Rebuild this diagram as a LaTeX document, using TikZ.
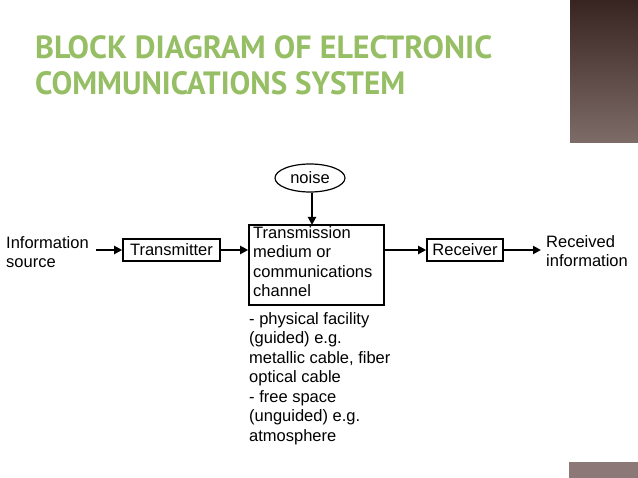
\documentclass[tikz,border=0pt]{standalone}
\usepackage{fontspec}
\setmainfont{Liberation Sans}
\newfontfamily\titlefont{PT Sans}
\usetikzlibrary{shapes.geometric,arrows.meta}
\definecolor{titlegreen}{RGB}{150,190,100}
\definecolor{barbrown}{RGB}{70,45,40}
\definecolor{barlight}{RGB}{140,120,118}
\begin{document}
\begin{tikzpicture}[x=1pt,y=-1pt,
  txt/.style={font=\fontsize{16.5}{19.5}\selectfont, inner sep=1pt},
  blk/.style={draw, line width=1.6pt, inner sep=2pt, font=\fontsize{16.5}{19.5}\selectfont},
  ttl/.style={anchor=west, inner sep=0, text=titlegreen, font=\titlefont\bfseries\fontsize{34}{36}\selectfont},
  arr/.style={-{Triangle[length=8pt,width=8pt]}, line width=2pt}]
\useasboundingbox (0,0) rectangle (638,478);
\fill[top color=barbrown!80!black, bottom color=barbrown!70!white] (570,0) rectangle (638,143);
\fill[barlight] (569,462) rectangle (638,478);
\node[ttl] (t1) at (35,47) {\resizebox{457pt}{!}{BLOCK DIAGRAM OF ELECTRONIC}};
\node[ttl] (t2) at (35,83) {\resizebox{370pt}{23pt}{COMMUNICATIONS SYSTEM}};
\node[draw, ellipse, line width=1.2pt, minimum width=70pt, minimum height=28pt, txt] (noise) at (310,178) {noise};
\node[draw, line width=1.6pt, minimum width=135pt, minimum height=80pt] (ch) at (316.5,265) {};
\node[txt, anchor=north west, align=left] (chtxt) at (252,225) {Transmission\\medium or\\communications\\channel};
\node[blk, minimum width=97pt, minimum height=22pt] (tx) at (171.5,250) {Transmitter};
\node[blk, minimum width=76pt, minimum height=22pt] (rx) at (465,250) {Receiver};
\node[txt, anchor=north west, align=left] (src) at (5,235) {Information\\source};
\node[txt, anchor=north west, align=left] (dst) at (545,234) {Received\\information};
\coordinate (srcend) at (96,250);
\coordinate (dstend) at (541,250);
\draw[arr] (srcend) -- (tx.west);
\draw[arr] (tx.east) -- (ch.west |- tx.east);
\draw[arr] (ch.east |- rx.west) -- (rx.west);
\draw[arr] (rx.east) -- (dstend);
\draw[arr] (noise.south -| 312,0) -- (312,225);
\node[txt, anchor=north west, align=left] (desc) at (248,311) {- physical facility\\(guided) e.g.\\metallic cable, fiber\\optical cable\\- free space\\(unguided) e.g.\\atmosphere};
\end{tikzpicture}
\end{document}
